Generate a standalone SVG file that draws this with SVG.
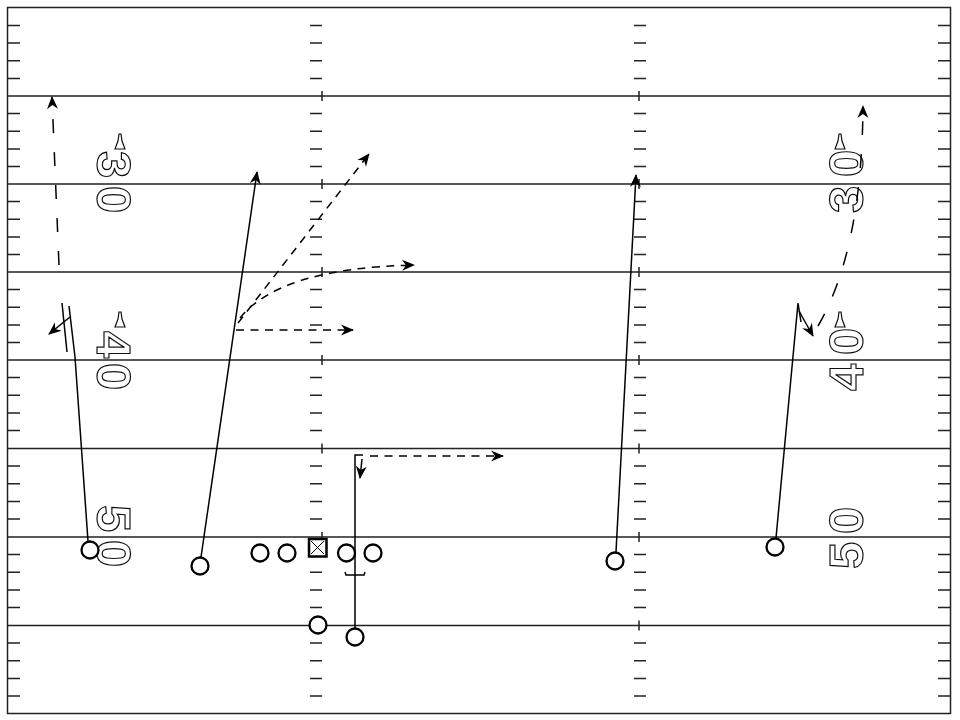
<svg xmlns="http://www.w3.org/2000/svg" width="960" height="720" viewBox="0 0 960 720">
<style>
.field{fill:none;stroke:#222;stroke-width:1.5}
.tick{fill:none;stroke:#222;stroke-width:1.5}
.num{fill:none;stroke:#111;stroke-width:1.2;font-family:"Liberation Sans",Arial,sans-serif;font-weight:bold;font-size:49px}
.dir{fill:none;stroke:#111;stroke-width:1.2}
.pl{fill:#fff;stroke:#000;stroke-width:2.3}
.rt{fill:none;stroke:#000;stroke-width:1.5}
.ds{fill:none;stroke:#000;stroke-width:1.5;stroke-dasharray:8 6.5}
.dl{fill:none;stroke:#000;stroke-width:1.5;stroke-dasharray:14 19}
</style>
<defs>
<marker id="ah" viewBox="-14 -7 16 14" refX="0" refY="0" markerWidth="16" markerHeight="14" markerUnits="userSpaceOnUse" orient="auto">
<path d="M1,0 L-12,-5.5 L-8,0 L-12,5.5 Z" fill="#000" stroke="none"/>
</marker>
</defs>
<rect width="960" height="720" fill="#fff"/>
<g id="field">
<rect class="field" x="7.5" y="7.5" width="943" height="706"/>
<path class="field" d="M7,96 H951 M7,184 H951 M7,272 H951 M7,360 H951 M7,448.5 H951 M7,537 H951 M7,625.5 H951"/>
<path class="tick" d="M322,91 v10 M322,179 v10 M322,267 v10 M322,355 v10 M322,443.5 v10 M322,532 v10 M322,620.5 v10 M639,91 v10 M639,179 v10 M639,267 v10 M639,355 v10 M639,443.5 v10 M639,532 v10 M639,620.5 v10"/>
<path class="tick" d="
M7,25.4h13M310,25.4h12M634,25.4h12M938,25.4h13
M7,43.1h13M310,43.1h12M634,43.1h12M938,43.1h13
M7,60.7h13M310,60.7h12M634,60.7h12M938,60.7h13
M7,78.4h13M310,78.4h12M634,78.4h12M938,78.4h13
M7,113.6h13M310,113.6h12M634,113.6h12M938,113.6h13
M7,131.3h13M310,131.3h12M634,131.3h12M938,131.3h13
M7,148.9h13M310,148.9h12M634,148.9h12M938,148.9h13
M7,166.6h13M310,166.6h12M634,166.6h12M938,166.6h13
M7,201.6h13M310,201.6h12M634,201.6h12M938,201.6h13
M7,219.3h13M310,219.3h12M634,219.3h12M938,219.3h13
M7,236.9h13M310,236.9h12M634,236.9h12M938,236.9h13
M7,254.6h13M310,254.6h12M634,254.6h12M938,254.6h13
M7,289.6h13M310,289.6h12M634,289.6h12M938,289.6h13
M7,307.3h13M310,307.3h12M634,307.3h12M938,307.3h13
M7,324.9h13M310,324.9h12M634,324.9h12M938,324.9h13
M7,342.6h13M310,342.6h12M634,342.6h12M938,342.6h13
M7,377.6h13M310,377.6h12M634,377.6h12M938,377.6h13
M7,395.3h13M310,395.3h12M634,395.3h12M938,395.3h13
M7,412.9h13M310,412.9h12M634,412.9h12M938,412.9h13
M7,430.6h13M310,430.6h12M634,430.6h12M938,430.6h13
M7,466.1h13M310,466.1h12M634,466.1h12M938,466.1h13
M7,483.8h13M310,483.8h12M634,483.8h12M938,483.8h13
M7,501.4h13M310,501.4h12M634,501.4h12M938,501.4h13
M7,519.1h13M310,519.1h12M634,519.1h12M938,519.1h13
M7,554.6h13M310,554.6h12M634,554.6h12M938,554.6h13
M7,572.3h13M310,572.3h12M634,572.3h12M938,572.3h13
M7,589.9h13M310,589.9h12M634,589.9h12M938,589.9h13
M7,607.6h13M310,607.6h12M634,607.6h12M938,607.6h13
M7,643.1h13M310,643.1h12M634,643.1h12M938,643.1h13
M7,660.8h13M310,660.8h12M634,660.8h12M938,660.8h13
M7,678.4h13M310,678.4h12M634,678.4h12M938,678.4h13
M7,696.1h13M310,696.1h12M634,696.1h12M938,696.1h13"/>
</g>
<g id="numbers">
<text class="num" transform="rotate(90)" x="151 186" y="-97">30</text>
<text class="num" transform="rotate(90)" x="331 363" y="-97">40</text>
<text class="num" transform="rotate(90)" x="505 540" y="-97">50</text>
<text class="num" transform="rotate(-90)" x="-213 -177" y="863">30</text>
<text class="num" transform="rotate(-90)" x="-391 -355" y="863">40</text>
<text class="num" transform="rotate(-90)" x="-569 -534" y="863">50</text>
<polygon class="dir" points="115,149 118,141 119,134 121,134 122,141 125,149"/>
<polygon class="dir" points="115,327 118,319 119,312 121,312 122,319 125,327"/>
<polygon class="dir" points="835,149 838,141 839,134 841,134 842,141 845,149"/>
<polygon class="dir" points="835,327 838,319 839,312 841,312 842,319 845,327"/>
</g>
<g id="players">
<g id="wr-left"><circle class="pl" cx="90" cy="550" r="8.5"/></g>
<g id="wr-slot-left"><circle class="pl" cx="200" cy="566" r="8.5"/></g>
<g id="lt"><circle class="pl" cx="260" cy="553" r="8.5"/></g>
<g id="lg"><circle class="pl" cx="287" cy="553" r="8.5"/></g>
<g id="center"><rect x="309" y="539" width="17.5" height="17.5" fill="#fff" stroke="#000" stroke-width="2.5"/><path d="M311,541 L324,554 M324,541 L311,554" stroke="#000" stroke-width="1" fill="none"/></g>
<g id="rg"><circle class="pl" cx="346.5" cy="553" r="8.5"/></g>
<g id="rt"><circle class="pl" cx="373" cy="553" r="8.5"/></g>
<g id="qb"><circle class="pl" cx="318" cy="625" r="8.5"/></g>
<g id="rb"><circle class="pl" cx="355" cy="637" r="8.5"/></g>
<g id="wr-slot-right"><circle class="pl" cx="615" cy="561" r="8.5"/></g>
<g id="wr-right"><circle class="pl" cx="775" cy="547" r="8.5"/></g>
</g>
<g id="connectors">
<path class="rt" d="M88,541 L75,357 L69,306"/>
<path class="rt" d="M62,303 L67,352"/>
<path class="rt" d="M70,317 L49,334" marker-end="url(#ah)"/>
<path class="dl" d="M59,265 L52,97" marker-end="url(#ah)"/>
<path class="rt" d="M201,557 L257,172" marker-end="url(#ah)"/>
<path class="ds" d="M236,330 L353,330" marker-end="url(#ah)"/>
<path class="ds" d="M238,323 L369,154" marker-end="url(#ah)"/>
<path class="ds" d="M240,318 Q280,268 414,265" marker-end="url(#ah)"/>
<path class="rt" d="M355,628 L355,455 L363,455"/>
<path class="rt" d="M362,459 L360,478" marker-end="url(#ah)"/>
<path class="ds" d="M370,456 L503,456" marker-end="url(#ah)"/>
<path class="rt" d="M345,572 L346,575 L364,575 L365,572"/>
<path class="rt" d="M616,552 L636,175" marker-end="url(#ah)"/>
<path class="rt" d="M776,538 L798,303 L801,322"/>
<path class="rt" d="M799,311 L813,336" marker-end="url(#ah)"/>
<path class="dl" d="M818,326 Q862,250 863,106" marker-end="url(#ah)"/>
</g>
</svg>
